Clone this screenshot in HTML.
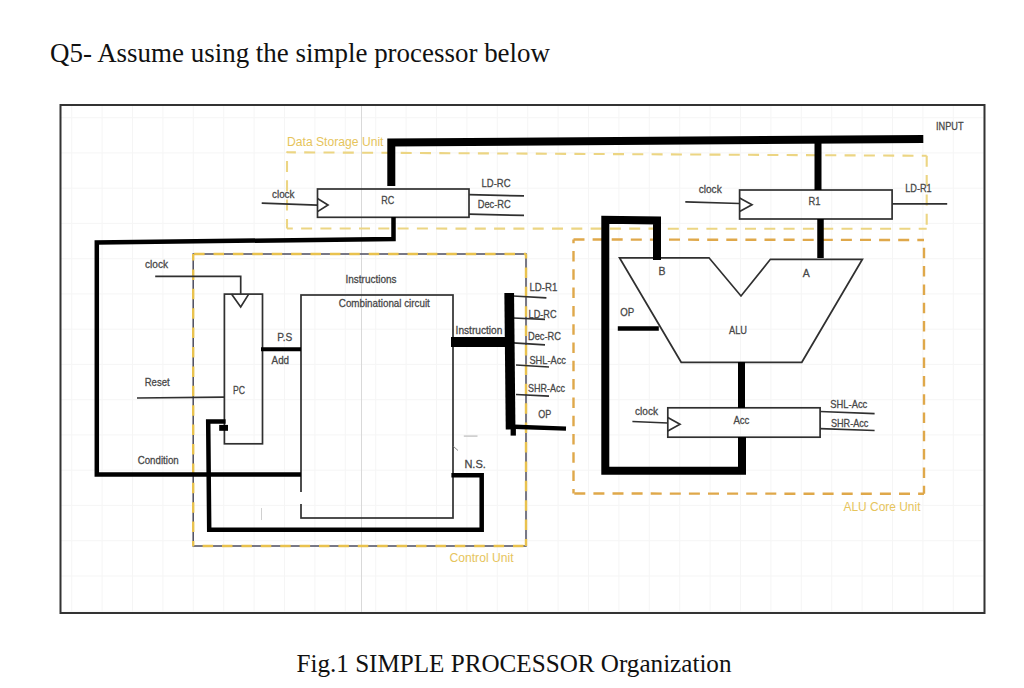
<!DOCTYPE html>
<html><head><meta charset="utf-8">
<style>
html,body{margin:0;padding:0;background:#fff;width:1024px;height:688px;overflow:hidden}
svg{display:block}
text{font-family:"Liberation Sans",sans-serif}
.serif{font-family:"Liberation Serif",serif;fill:#111}
.lbl{fill:#474747;font-size:11.6px;stroke:#474747;stroke-width:0.3}
.thin{fill:none;stroke:#303030;stroke-width:1.7}
.thick{fill:none;stroke:#000;stroke-linejoin:miter}
.grid{stroke:#f5f5f5;stroke-width:1}
</style></head><body>
<svg width="1024" height="688" viewBox="0 0 1024 688">
<rect width="1024" height="688" fill="#fff"/>
<!-- title -->
<text class="serif" x="50" y="61.7" font-size="27" textLength="500" lengthAdjust="spacingAndGlyphs">Q5- Assume using the simple processor below</text>
<text class="serif" x="296.5" y="672" font-size="25" textLength="435" lengthAdjust="spacingAndGlyphs">Fig.1 SIMPLE PROCESSOR Organization</text>

<!-- grid -->
<g class="grid"><line x1="71.7" y1="106" x2="71.7" y2="612"/><line x1="102.1" y1="106" x2="102.1" y2="612"/><line x1="132.5" y1="106" x2="132.5" y2="612"/><line x1="162.9" y1="106" x2="162.9" y2="612"/><line x1="193.3" y1="106" x2="193.3" y2="612"/><line x1="223.7" y1="106" x2="223.7" y2="612"/><line x1="254.1" y1="106" x2="254.1" y2="612"/><line x1="284.5" y1="106" x2="284.5" y2="612"/><line x1="314.9" y1="106" x2="314.9" y2="612"/><line x1="345.3" y1="106" x2="345.3" y2="612"/><line x1="375.7" y1="106" x2="375.7" y2="612"/><line x1="406.1" y1="106" x2="406.1" y2="612"/><line x1="436.5" y1="106" x2="436.5" y2="612"/><line x1="466.9" y1="106" x2="466.9" y2="612"/><line x1="497.3" y1="106" x2="497.3" y2="612"/><line x1="527.7" y1="106" x2="527.7" y2="612"/><line x1="558.1" y1="106" x2="558.1" y2="612"/><line x1="588.5" y1="106" x2="588.5" y2="612"/><line x1="618.9" y1="106" x2="618.9" y2="612"/><line x1="649.3" y1="106" x2="649.3" y2="612"/><line x1="679.7" y1="106" x2="679.7" y2="612"/><line x1="710.1" y1="106" x2="710.1" y2="612"/><line x1="740.5" y1="106" x2="740.5" y2="612"/><line x1="770.9" y1="106" x2="770.9" y2="612"/><line x1="801.3" y1="106" x2="801.3" y2="612"/><line x1="831.7" y1="106" x2="831.7" y2="612"/><line x1="862.1" y1="106" x2="862.1" y2="612"/><line x1="892.5" y1="106" x2="892.5" y2="612"/><line x1="922.9" y1="106" x2="922.9" y2="612"/><line x1="953.3" y1="106" x2="953.3" y2="612"/><line x1="983.7" y1="106" x2="983.7" y2="612"/><line x1="61" y1="117.7" x2="984" y2="117.7"/><line x1="61" y1="152.9" x2="984" y2="152.9"/><line x1="61" y1="188.2" x2="984" y2="188.2"/><line x1="61" y1="223.4" x2="984" y2="223.4"/><line x1="61" y1="258.7" x2="984" y2="258.7"/><line x1="61" y1="293.9" x2="984" y2="293.9"/><line x1="61" y1="329.2" x2="984" y2="329.2"/><line x1="61" y1="364.4" x2="984" y2="364.4"/><line x1="61" y1="399.7" x2="984" y2="399.7"/><line x1="61" y1="434.9" x2="984" y2="434.9"/><line x1="61" y1="470.2" x2="984" y2="470.2"/><line x1="61" y1="505.4" x2="984" y2="505.4"/><line x1="61" y1="540.7" x2="984" y2="540.7"/><line x1="61" y1="576.0" x2="984" y2="576.0"/><line x1="61" y1="611.2" x2="984" y2="611.2"/></g>
<line x1="361.5" y1="106" x2="361.5" y2="612" stroke="#d9d9d9" stroke-width="1"/>

<!-- frame -->
<rect x="60.5" y="105" width="924" height="508" fill="none" stroke="#333" stroke-width="2"/>

<!-- Data Storage Unit dashed box -->
<g fill="none" stroke="#ecd583" stroke-width="2.1" stroke-dasharray="11 8.3">
<path d="M287 152.3 L926.7 155.8" stroke-dashoffset="2.1"/>
<path d="M287 228.5 L926.7 228.8" stroke-dashoffset="5.2"/>
<path d="M287 151.5 V228.5" stroke-dashoffset="9.8"/>
<path d="M926.7 155.8 V228.8" stroke-dashoffset="0"/>
</g>
<text x="287" y="146" font-size="12" fill="#e6c45c" textLength="96.5" lengthAdjust="spacingAndGlyphs">Data Storage Unit</text>

<!-- ALU core dashed box -->
<g fill="none" stroke="#dfa84a" stroke-width="2.4" stroke-dasharray="11 8.1">
<path d="M573.5 239.5 L924 240" stroke-dashoffset="0"/>
<path d="M573.5 239.5 V493.5" stroke-dasharray="10.5 7.8" stroke-dashoffset="6.8"/>
<path d="M573.5 493.5 L924 493.8" stroke-dashoffset="18.3"/>
<path d="M924 240 V493.8" stroke-dasharray="10.5 7.8" stroke-dashoffset="10.5"/>
</g>
<text x="843.5" y="510.8" font-size="12" fill="#e6c45c" textLength="77" lengthAdjust="spacingAndGlyphs">ALU Core Unit</text>

<!-- Control unit box -->
<rect x="193.2" y="254" width="332.8" height="292" fill="none" stroke="#4c4c5e" stroke-width="1.5"/>
<g fill="none" stroke="#e9c24e" stroke-width="2.4" stroke-dasharray="10.5 8.9">
<path d="M193.2 254 H526" stroke-dashoffset="18.5"/>
<path d="M193.2 254 V546" stroke-dashoffset="4"/>
<path d="M193.2 546 H526" stroke-dashoffset="10"/>
<path d="M526 254 V546" stroke-dashoffset="6"/>
</g>
<text x="449.5" y="562" font-size="12" fill="#e6c45c" textLength="64" lengthAdjust="spacingAndGlyphs">Control Unit</text>

<!-- RC register -->
<rect class="thin" x="317.5" y="189" width="151.5" height="28.3"/>
<path class="thin" d="M261.7 203.2 L317.5 205.2 M317.5 198.5 L328 205 L317.5 211.6 M469 194.7 L524 195.9 M469 214.2 L524 215.4"/>
<text class="lbl" x="272" y="197.7" textLength="22.5" lengthAdjust="spacingAndGlyphs">clock</text>
<text class="lbl" x="381.2" y="204" font-size="11.1" textLength="13" lengthAdjust="spacingAndGlyphs">RC</text>
<text class="lbl" x="481.5" y="187.2" textLength="29" lengthAdjust="spacingAndGlyphs">LD-RC</text>
<text class="lbl" x="477.7" y="208" textLength="33" lengthAdjust="spacingAndGlyphs">Dec-RC</text>

<!-- R1 register -->
<rect class="thin" x="739.6" y="190" width="152.5" height="29"/>
<path class="thin" d="M685.3 201.9 L739.6 203.5 M739.6 198 L752 204.8 L739.6 211.6 M892.1 203.9 L947.2 203.9"/>
<text class="lbl" x="698.7" y="193.3" textLength="23" lengthAdjust="spacingAndGlyphs">clock</text>
<text class="lbl" x="808.5" y="204.6" font-size="11.1" textLength="12" lengthAdjust="spacingAndGlyphs">R1</text>
<text class="lbl" x="905.2" y="192" textLength="26.5" lengthAdjust="spacingAndGlyphs">LD-R1</text>
<text class="lbl" x="936" y="129.8" textLength="27.5" lengthAdjust="spacingAndGlyphs">INPUT</text>

<!-- ALU -->
<path class="thin" d="M619.5 257.8 L709 257.8 L741 296 L770.4 259.3 L862.4 259.3 L801.8 362.3 L681.2 362.3 Z"/>
<text class="lbl" x="658.5" y="274.5" font-size="11.1" textLength="7" lengthAdjust="spacingAndGlyphs">B</text>
<text class="lbl" x="802.7" y="276.8" font-size="11.1" textLength="7" lengthAdjust="spacingAndGlyphs">A</text>
<text class="lbl" x="729" y="334.3" font-size="11.1" textLength="18" lengthAdjust="spacingAndGlyphs">ALU</text>
<text class="lbl" x="620.2" y="315.6" font-size="11.1" textLength="14" lengthAdjust="spacingAndGlyphs">OP</text>

<!-- Acc -->
<rect class="thin" x="667.8" y="407.8" width="152.3" height="29.4"/>
<path class="thin" d="M632.4 421.5 L667.8 423 M667.8 417.5 L680 424.3 L667.8 431.1 M820 411.5 L874.6 413.6 M820 428.7 L874.6 430.5"/>
<text class="lbl" x="635" y="415.1" textLength="23" lengthAdjust="spacingAndGlyphs">clock</text>
<text class="lbl" x="733.4" y="423.6" font-size="11.1" textLength="16" lengthAdjust="spacingAndGlyphs">Acc</text>
<text class="lbl" x="830.3" y="408.4" textLength="37" lengthAdjust="spacingAndGlyphs">SHL-Acc</text>
<text class="lbl" x="830.9" y="427.2" textLength="37.5" lengthAdjust="spacingAndGlyphs">SHR-Acc</text>

<!-- PC -->
<rect class="thin" x="224.4" y="294.1" width="38.1" height="149.7"/>
<path class="thin" d="M231.5 294.1 L240.7 307 L248.7 294.1 M155.2 276.3 L240.7 276.3 L240.7 294.1 M137 398 L224.3 397.2"/>
<text class="lbl" x="145" y="267.7" textLength="23" lengthAdjust="spacingAndGlyphs">clock</text>
<text class="lbl" x="277.3" y="340.9" textLength="15" lengthAdjust="spacingAndGlyphs">P.S</text>
<text class="lbl" x="271.6" y="363.8" textLength="17.5" lengthAdjust="spacingAndGlyphs">Add</text>
<text class="lbl" x="144.7" y="386.3" textLength="25" lengthAdjust="spacingAndGlyphs">Reset</text>
<text class="lbl" x="233" y="393.7" textLength="12" lengthAdjust="spacingAndGlyphs">PC</text>
<text class="lbl" x="137.7" y="463.5" textLength="41" lengthAdjust="spacingAndGlyphs">Condition</text>

<!-- Combinational -->
<rect class="thin" x="301" y="295" width="152" height="223"/>
<rect x="299.5" y="492" width="3" height="12" fill="#fff"/>
<line x1="463.8" y1="436.1" x2="477.5" y2="436.1" stroke="#c8c8c8" stroke-width="1.5"/>
<line x1="453.5" y1="446.5" x2="458" y2="450.5" stroke="#888" stroke-width="1"/>
<line x1="261.5" y1="508" x2="261.5" y2="520" stroke="#d0d0d0" stroke-width="1"/>
<text class="lbl" x="345.5" y="282.8" textLength="51" lengthAdjust="spacingAndGlyphs">Instructions</text>
<text class="lbl" x="338.8" y="306.9" textLength="91" lengthAdjust="spacingAndGlyphs">Combinational circuit</text>
<text class="lbl" x="455.6" y="334" textLength="46.8" lengthAdjust="spacingAndGlyphs">Instruction</text>
<text class="lbl" x="464.4" y="468.1" textLength="21.5" lengthAdjust="spacingAndGlyphs">N.S.</text>

<!-- control bus branches -->
<path class="thin" d="M513.2 296 L546.4 297.8 M513 318 L545 319.4 M513 342.9 L545 344.8 M516 365 L549 367 M516 394.5 L549 396.2"/>
<text class="lbl" x="529.4" y="291.2" textLength="28" lengthAdjust="spacingAndGlyphs">LD-R1</text>
<text class="lbl" x="528.6" y="317.5" textLength="28" lengthAdjust="spacingAndGlyphs">LD-RC</text>
<text class="lbl" x="528" y="340.1" textLength="33" lengthAdjust="spacingAndGlyphs">Dec-RC</text>
<text class="lbl" x="529.4" y="363.6" textLength="36.5" lengthAdjust="spacingAndGlyphs">SHL-Acc</text>
<text class="lbl" x="528" y="392" textLength="37" lengthAdjust="spacingAndGlyphs">SHR-Acc</text>
<text class="lbl" x="538.2" y="418" textLength="13" lengthAdjust="spacingAndGlyphs">OP</text>

<!-- thick buses -->
<path class="thick" d="M391.3 186 V142.4 L923.3 139" stroke-width="8" stroke-linecap="butt"/>
<path class="thick" d="M818 143 V190" stroke-width="7" stroke-linecap="butt"/>
<path class="thick" d="M820.5 219 V258" stroke-width="6.5" stroke-linecap="butt"/>
<path class="thick" d="M393.5 217 V239 L96.8 242.5 V474.5 H301" stroke-width="4.5" stroke-linecap="butt"/>
<path class="thick" d="M225.6 421.6 H208.2 L209.2 529.7 H481.7 V475.2 H451.4" stroke-width="4.5" stroke-linecap="butt" stroke-linejoin="round"/>
<rect x="219.2" y="424.9" width="8.8" height="5.9" fill="#000"/>
<path class="thick" d="M261 349.2 H301" stroke-width="4" stroke-linecap="butt"/>
<path class="thick" d="M451 342 H509" stroke-width="10" stroke-linecap="butt"/>
<path class="thick" d="M509.2 293 L510.6 429.4" stroke-width="9.7" stroke-linecap="butt"/>
<rect x="510.6" y="428" width="5.3" height="7.6" fill="#000"/>
<path class="thick" d="M514 426.8 L566 428.6" stroke-width="4.4" stroke-linecap="butt"/>
<path class="thick" d="M657 260 V220.5 L605.3 219.8 V470.8 H742 V437" stroke-width="8" stroke-linecap="butt"/>
<path class="thick" d="M741.5 362 V408" stroke-width="7" stroke-linecap="butt"/>
<path class="thick" d="M617.8 328.5 H658.8" stroke-width="4.5" stroke-linecap="butt"/>
</svg>
</body></html>
